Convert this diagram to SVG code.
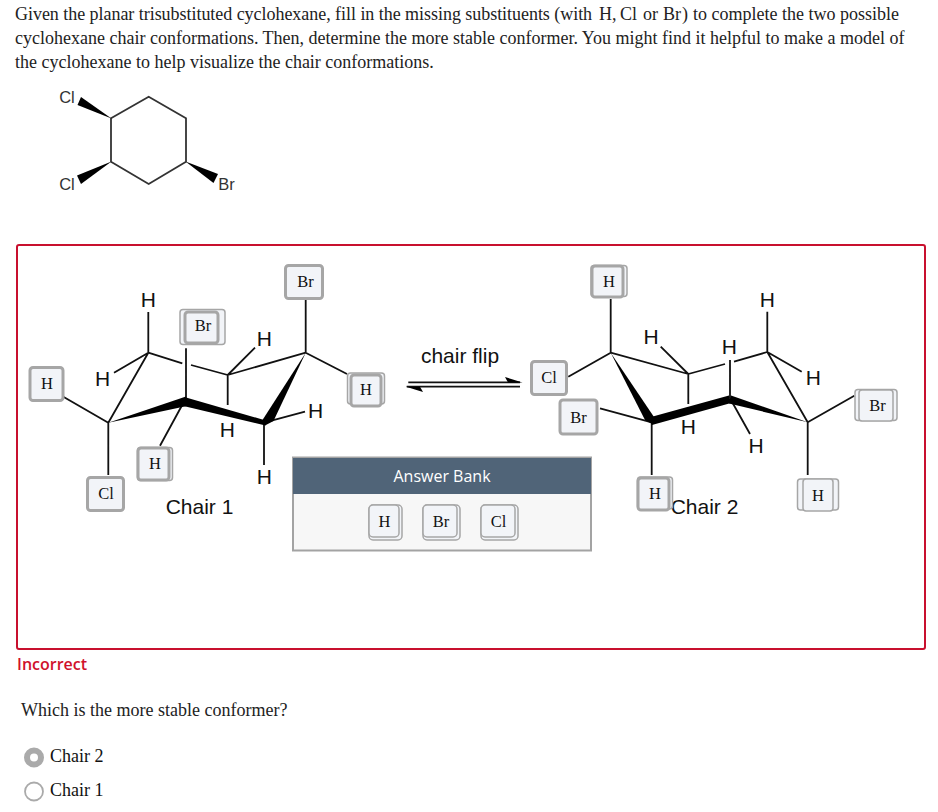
<svg xmlns="http://www.w3.org/2000/svg" width="938" height="812" viewBox="0 0 938 812">
<style>
text{font-family:"Liberation Serif","Times New Roman",serif}
.q{font-size:18px;fill:#222}
.o{font-size:18px;fill:#111}
.a{font-family:"Liberation Sans",Arial,sans-serif;font-size:21px;fill:#111;text-anchor:middle}
.s{font-family:"Liberation Sans",Arial,sans-serif;font-size:16.5px;fill:#333;text-anchor:middle}
.t{font-size:16.5px;fill:#111;text-anchor:middle}
.b{fill:#f2f4f8;stroke:#a6a6a6;stroke-width:3}
.k{fill:#f2f4f8;stroke:#a6a6a6;stroke-width:1.5}
.l{stroke:#111;stroke-width:1.8;fill:none}
.r{stroke:#333;stroke-width:1.8;fill:none}
.w{fill:#000}
</style>
<rect width="938" height="812" fill="#fff"/>
<g id="question">
<text class="q" x="15" y="20"><tspan style="letter-spacing:-0.04px">Given the planar trisubstituted cyclohexane, fill in the missing substituents (with</tspan> <tspan x="599">H,</tspan> <tspan x="620">Cl</tspan> <tspan x="643">or</tspan> <tspan x="663">Br</tspan><tspan x="682">)</tspan> <tspan x="693">to complete the two possible</tspan></text>
<text class="q" x="15" y="44">cyclohexane chair conformations. Then, determine the more stable conformer. You might find it helpful to make a model of</text>
<text class="q" x="15" y="68">the cyclohexane to help visualize the chair conformations.</text>
</g>
<g id="molecule">
<path class="r" d="M111 118.3L148.7 96.7L186 118.3V161.7L148.7 184L111 161.7Z"/>
<polygon class="w" points="111.5,118.5 77.5,105 81,97"/>
<polygon class="w" points="111.5,161.5 81,184 77,175.5"/>
<polygon class="w" points="185.5,161.5 218,174 213.5,183"/>
<text class="s" x="67" y="103">Cl</text>
<text class="s" x="67" y="190">Cl</text>
<text class="s" x="226.5" y="190">Br</text>
</g>
<rect id="panel" x="17" y="245" width="908" height="404" rx="2" fill="#fff" stroke="#c8102e" stroke-width="2"/>
<g id="connectors">
<path class="l" d="M148.3 352.7V312M148.3 352.7L114 372.7M148.3 352.7L182.3 363.3M191 365L227.7 375M148.3 352.7L108.3 422.7M186 348.3V398M63.3 396.7L108.3 422.7V475M186 398L160 445.7M227.7 375L255 347.7M227.7 375V405M227.7 375L305.7 352.7M305.7 352.7V299M305.7 352.7L347 374M264 422.7L305 411.7M264 422.7V465"/>
<polygon class="w" points="108.3,422.7 186,396.5 187,406"/>
<polygon class="w" points="186,397.5 264,420 265.5,425.5 183.5,406"/>
<polygon class="w" points="305.7,352.7 273.5,421 265,425.5 262.5,420"/>
<path class="l" d="M610.7 352.7V299M610.7 352.7L568.3 376.7M610.7 352.7L688.3 374M688.3 374L660.7 346.7M688.3 374V404M688.3 374L725 364M734 361.7L767.3 352M730 360V398.3M730 398.3L750 434M767.3 352V311.7M767.3 352L801.7 371.7M767.3 352L807.7 422.3M807.7 422.3L854.3 395.7M807.7 422.3V475M651.7 422.3L600 408.3M651.7 422.3V475"/>
<polygon class="w" points="610.7,352.7 654,417 652,424 645,420"/>
<polygon class="w" points="651,417 729,395.5 731,403 652,425"/>
<polygon class="w" points="807.7,422.3 729,403.5 731,395.5"/>
<path class="l" d="M408.3 382.3H520M406.7 386.7H520"/>
<polygon class="w" points="522.5,382.5 505,377 508,382.5"/>
<polygon class="w" points="406,386.7 423,392 420,386.7"/>
</g>
<text id="flip-label" class="a" x="460" y="363">chair flip</text>
<g id="chair1-labels">
<text class="a" x="148.3" y="307">H</text><text class="a" x="102.7" y="386">H</text><text class="a" x="264.3" y="346">H</text><text class="a" x="227.3" y="437">H</text><text class="a" x="315.7" y="418">H</text><text class="a" x="264.3" y="484">H</text>
<text class="a" x="199.5" y="514">Chair 1</text>
</g>
<g id="chair2-labels">
<text class="a" x="651" y="344">H</text><text class="a" x="688.3" y="434">H</text><text class="a" x="729.3" y="354">H</text><text class="a" x="756" y="453">H</text><text class="a" x="767.3" y="307">H</text><text class="a" x="813.3" y="385">H</text>
<text class="a" x="704.5" y="514">Chair 2</text>
</g>
<g id="tile-br1"><rect class="b" x="285.5" y="265.5" width="37" height="33" rx="3"/><text class="t" x="305.5" y="287">Br</text></g>
<g id="tile-br2"><rect class="k" x="180" y="309.5" width="45" height="35" rx="3"/><rect class="b" x="185" y="312" width="33" height="31" rx="3"/><text class="t" x="203" y="331">Br</text></g>
<g id="tile-h1"><rect class="b" x="30" y="367.5" width="33" height="33" rx="3"/><text class="t" x="47" y="389">H</text></g>
<g id="tile-h2"><rect class="k" x="137.5" y="447.5" width="35" height="33" rx="3"/><rect class="b" x="138" y="448" width="31" height="32" rx="3"/><text class="t" x="155" y="469">H</text></g>
<g id="tile-cl1"><rect class="b" x="87.5" y="477.5" width="36" height="33" rx="3"/><text class="t" x="106" y="499">Cl</text></g>
<g id="tile-h3"><rect class="k" x="347.5" y="373" width="37" height="31" rx="3"/><rect class="b" x="351" y="375" width="30" height="31" rx="3"/><text class="t" x="366" y="395">H</text></g>
<g id="tile-cl2"><rect class="b" x="531.5" y="361.5" width="35" height="33" rx="3"/><text class="t" x="549" y="383">Cl</text></g>
<g id="tile-br3"><rect class="b" x="560" y="400" width="37" height="34" rx="3"/><text class="t" x="578.5" y="423">Br</text></g>
<g id="tile-h4"><rect class="k" x="591" y="265.5" width="36" height="31" rx="3"/><rect class="b" x="592" y="266" width="31" height="31" rx="3"/><text class="t" x="609" y="287">H</text></g>
<g id="tile-h5"><rect class="k" x="637.5" y="477" width="35" height="32" rx="3"/><rect class="b" x="638" y="478" width="31" height="32" rx="3"/><text class="t" x="655" y="499">H</text></g>
<g id="tile-h6"><rect class="k" x="797.5" y="479" width="41" height="31" rx="3"/><rect class="k" x="803" y="479" width="30" height="32" rx="3"/><text class="t" x="818" y="501">H</text></g>
<g id="tile-br4"><rect class="k" x="855" y="389.5" width="42" height="31" rx="3"/><rect class="k" x="859" y="390" width="34" height="31" rx="3"/><text class="t" x="877.5" y="411">Br</text></g>
<g id="answer-bank">
<rect x="293" y="457.5" width="298" height="93" fill="#f7f7f7" stroke="#a3a3a3" stroke-width="2"/>
<rect x="293" y="458" width="298" height="36" fill="#506478"/>
<text x="442" y="482" text-anchor="middle" style="font-family:'Open Sans',sans-serif;font-size:16px;fill:#fff">Answer Bank</text>
</g>
<g id="bank-h"><rect class="k" x="369" y="505" width="33" height="35" rx="4"/><rect class="k" x="369" y="505" width="30" height="32" rx="4"/><text class="t" x="384.5" y="527">H</text></g>
<g id="bank-br"><rect class="k" x="423" y="505" width="37" height="35" rx="4"/><rect class="k" x="423" y="505" width="34" height="32" rx="4"/><text class="t" x="441" y="527">Br</text></g>
<g id="bank-cl"><rect class="k" x="481" y="505" width="37" height="35" rx="4"/><rect class="k" x="481" y="505" width="34" height="32" rx="4"/><text class="t" x="498.5" y="527">Cl</text></g>
<text id="status" x="17" y="670" style="font-family:'Open Sans',sans-serif;font-size:16px;font-weight:600;fill:#d0112b">Incorrect</text>
<g id="followup">
<text class="q" x="21" y="716">Which is the more stable conformer?</text>
<circle cx="34" cy="757.5" r="7" fill="#fff" stroke="#aaa" stroke-width="6"/>
<text class="o" x="50" y="762">Chair 2</text>
<circle cx="34" cy="791.5" r="9" fill="#fff" stroke="#aaa" stroke-width="1.8"/>
<text class="o" x="50" y="796">Chair 1</text>
</g>
</svg>
